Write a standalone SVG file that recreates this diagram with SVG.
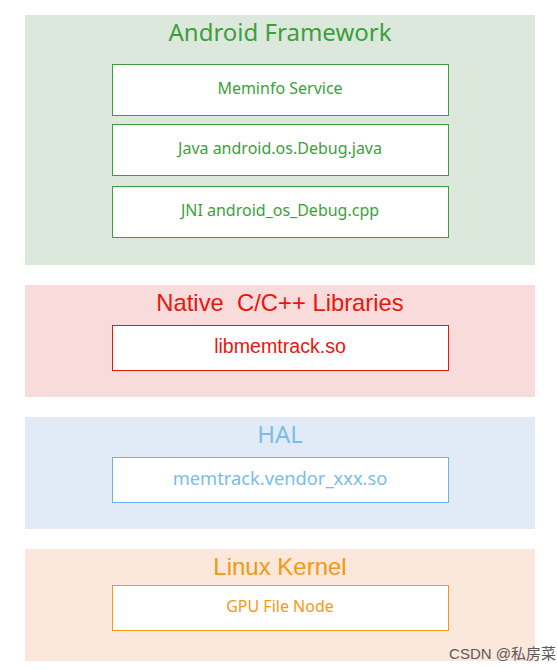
<svg xmlns="http://www.w3.org/2000/svg" width="557" height="670" viewBox="0 0 557 670">
<style>
.seg{font-family:"Noto Sans","Open Sans","DejaVu Sans",sans-serif;text-anchor:middle}
.ari{font-family:"Liberation Sans",Arial,sans-serif;text-anchor:middle}
.box{fill:#ffffff;stroke-width:1}
.g{fill:#3c9f3c}.gs{stroke:#3c9f3c}
.r{fill:#e8170c}.rs{stroke:#e8170c}
.b{fill:#7bbde6}.bs{stroke:#6fb3e6}
.o{fill:#f29a12}.os{stroke:#f29a12}
</style>
<rect width="557" height="670" fill="#ffffff"/>
<g id="android-framework">
<rect x="25" y="15" width="510" height="250" fill="#dde8dd"/>
<text class="seg g" x="280" y="41" font-size="24">Android Framework</text>
</g>
<g id="meminfo-service">
<rect class="box gs" x="112.5" y="64.5" width="336" height="51"/>
<text class="seg g" x="280" y="94" font-size="16">Meminfo Service</text>
</g>
<g id="debug-java">
<rect class="box gs" x="112.5" y="124.5" width="336" height="51"/>
<text class="seg g" x="280" y="154" font-size="16">Java android.os.Debug.java</text>
</g>
<g id="debug-cpp">
<rect class="box gs" x="112.5" y="186.5" width="336" height="51"/>
<text class="seg g" x="280" y="216" font-size="16">JNI android_os_Debug.cpp</text>
</g>
<g id="native-libraries">
<rect x="25" y="285" width="510" height="112" fill="#f8dbdb"/>
<text class="ari r" x="280" y="311" font-size="23.8" xml:space="preserve">Native  C/C++ Libraries</text>
</g>
<g id="libmemtrack">
<rect class="box rs" x="112.5" y="325.5" width="336" height="45"/>
<text class="ari r" x="280" y="353" font-size="19.6">libmemtrack.so</text>
</g>
<g id="hal">
<rect x="25" y="417" width="510" height="112" fill="#e1ebf7"/>
<text class="seg b" x="280" y="443" font-size="24">HAL</text>
</g>
<g id="memtrack-vendor">
<rect class="box bs" x="112.5" y="457.5" width="336" height="45"/>
<text class="seg b" x="280" y="485" font-size="18.3">memtrack.vendor_xxx.so</text>
</g>
<g id="linux-kernel">
<rect x="25" y="549" width="510" height="112" fill="#fbe7dc"/>
<text class="ari o" x="280" y="575" font-size="24">Linux Kernel</text>
</g>
<g id="gpu-file-node">
<rect class="box os" x="112.5" y="585.5" width="336" height="45"/>
<text class="seg o" x="280" y="612" font-size="16">GPU File Node</text>
</g>
<g id="connectors"></g>
<text x="556" y="659" font-family="'Liberation Sans','Noto Sans CJK SC',sans-serif" font-size="15" fill="#5a5a5a" text-anchor="end">CSDN @私房菜</text>
</svg>
